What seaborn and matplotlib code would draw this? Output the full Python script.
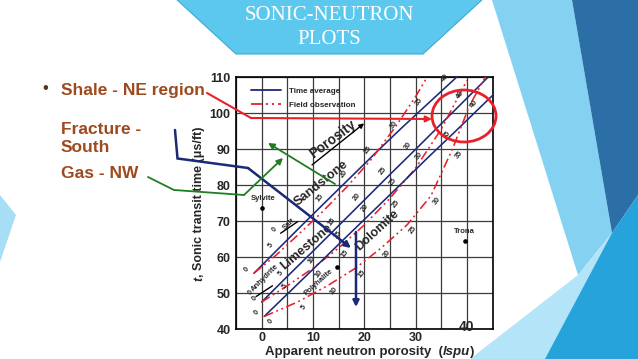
import matplotlib
matplotlib.use("Agg")
import numpy as np
import pandas as pd
import matplotlib.pyplot as plt
import seaborn as sns
from matplotlib.patches import Polygon, Ellipse, FancyArrowPatch
from matplotlib.lines import Line2D

# ---------------- data ----------------
# x = apparent neutron porosity (lspu), y = sonic transit time (us/ft), por = porosity label
ss_ta_por = [0, 5, 10, 15, 20, 25, 30, 35, 40, 45]
ss_ta_x = [-1.5, 3.2, 7.9, 12.6, 17.4, 22.2, 27.1, 32.1, 37.2, 42.3]
ss_ta_y = [55.5, 62.2, 68.9, 75.5, 82.2, 88.9, 95.6, 102.2, 108.9, 115.6]

ss_fo_por = [0, 5, 10, 15, 20, 25, 30, 35, 40]
ss_fo_x = [-1.5, 2.8, 7.2, 11.8, 16.5, 21.3, 26.0, 30.0, 33.5]
ss_fo_y = [55.5, 60.5, 66.3, 72.5, 79.3, 87.0, 96.0, 104.5, 113.0]

ls_ta_por = [0, 5, 10, 15, 20, 25, 30, 35, 40, 45]
ls_ta_x = [0, 5, 10, 15, 20, 25, 30, 35, 40, 45]
ls_ta_y = [47.5, 54.6, 61.6, 68.7, 75.8, 82.9, 89.9, 97.0, 104.1, 111.2]

ls_fo_por = [0, 5, 10, 15, 20, 25, 30, 35, 40]
ls_fo_x = [0, 5, 10, 15, 20, 25, 30, 35, 40]
ls_fo_y = [47.5, 52.0, 56.9, 62.5, 68.9, 76.3, 84.7, 95.5, 109.0]

do_ta_por = [0, 5, 10, 15, 20, 25, 30, 35, 40, 45]
do_ta_x = [0.5, 5.8, 11.1, 16.3, 21.6, 26.9, 32.1, 37.4, 42.7, 48.0]
do_ta_y = [43.5, 50.8, 58.1, 65.3, 72.6, 79.9, 87.2, 94.4, 101.7, 109.0]

do_fo_por = [0, 5, 10, 15, 20, 25, 30, 35, 40, 45]
do_fo_x = [0.5, 7.0, 12.8, 18.4, 23.3, 28.4, 33.0, 37.2, 40.5, 44.0]
do_fo_y = [43.5, 47.5, 52.0, 57.0, 62.5, 69.0, 77.0, 90.0, 102.0, 111.0]

# porosity values that carry a number label on each curve
ss_ta_lab = [0, 5, 15, 20, 25, 30, 35, 40]
ss_fo_lab = []
ls_ta_lab = [0, 5, 15, 20, 25, 30, 40]
ls_fo_lab = [10, 15, 25, 35]
do_ta_lab = [0, 5, 10, 15, 20, 25, 30, 40]
do_fo_lab = [0, 5, 10, 15, 20, 25, 30, 35]

# minerals (x, y)
mineral_names = ["Sylvite", "Polyhalite", "Trona"]
mineral_x = [0.0, 14.7, 39.6]
mineral_y = [73.5, 57.1, 64.4]

x_tick_labels = ["0", "10", "20", "30"]
y_tick_labels = ["40", "50", "60", "70", "80", "90", "100", "110"]

legend_labels = ["Time average", "Field observation"]
slide_title = ["SONIC-NEUTRON", "PLOTS"]
slide_notes = ["Shale - NE region", "Fracture -", "South", "Gas - NW"]

# ---------------- style ----------------
sns.set_style("white")
plt.rcParams["font.family"] = ["Liberation Sans", "DejaVu Sans"]
NAVY = "#1c2878"
RED = "#e8202a"
GREEN = "#1f7d22"
BROWN = "#9e4a1e"
FO_DASH = (0, (6, 2.2, 1.2, 2.2, 1.2, 2.2))

W, H = 638, 359
fig = plt.figure(figsize=(W / 100, H / 100), dpi=100)
fig.patch.set_facecolor("white")


def F(x, y):
    return (x / W, 1 - y / H)


# ---------------- background decorations ----------------
deco = [
    ([(0, 195), (16, 215), (0, 262)], "#a6def5"),
    ([(492, 0), (572, 0), (612, 233), (578, 275)], "#84d1f1"),
    ([(572, 0), (638, 0), (638, 195), (612, 233)], "#2c6ea6"),
    ([(470, 359), (578, 275), (612, 233), (600, 359)], "#b4e4f7"),
    ([(545, 359), (612, 233), (638, 195), (638, 359)], "#27a3db"),
]
for pts, c in deco:
    fig.add_artist(Polygon([F(*p) for p in pts], closed=True, transform=fig.transFigure,
                           fc=c, ec="none", zorder=0.2))

# title banner
fig.add_artist(Polygon([F(175, -2), F(484, -2), F(423, 54), F(236, 54)], closed=True,
                       transform=fig.transFigure, fc="#5cc8ee", ec="#3ea8d6", lw=0.8, zorder=0.3))
fig.text(*F(329, 16), slide_title[0], color="white", family="Liberation Serif", fontsize=15,
         ha="center", va="center", zorder=0.4)
fig.text(*F(329, 40), slide_title[1], color="white", family="Liberation Serif", fontsize=15,
         ha="center", va="center", zorder=0.4)

# ---------------- axes ----------------
ax = fig.add_axes([236 / W, 1 - 329 / H, (492.5 - 236) / W, (329 - 77) / H])
ax.set_zorder(1)
ax.set_facecolor("white")

curves = [
    ("ss_ta", ss_ta_por, ss_ta_x, ss_ta_y, ss_ta_lab, NAVY, "-"),
    ("ss_fo", ss_fo_por, ss_fo_x, ss_fo_y, ss_fo_lab, RED, FO_DASH),
    ("ls_ta", ls_ta_por, ls_ta_x, ls_ta_y, ls_ta_lab, NAVY, "-"),
    ("ls_fo", ls_fo_por, ls_fo_x, ls_fo_y, ls_fo_lab, RED, FO_DASH),
    ("do_ta", do_ta_por, do_ta_x, do_ta_y, do_ta_lab, NAVY, "-"),
    ("do_fo", do_fo_por, do_fo_x, do_fo_y, do_fo_lab, RED, FO_DASH),
]
df = pd.concat([pd.DataFrame({"curve": n, "por": p, "x": x, "y": y})
                for n, p, x, y, _, _, _ in curves], ignore_index=True)

for n, p, x, y, labs, col, ls in curves:
    sub = df[df.curve == n]
    sns.lineplot(data=sub, x="x", y="y", sort=False, estimator=None, color=col,
                 linestyle=ls, linewidth=1.15, ax=ax, legend=False, zorder=3)
    off = (-5, 2.5) if col == NAVY else (4.5, -4)
    for _, r in sub.iterrows():
        if r.por in labs and -5 < r.x < 45 and 40 < r.y < 110:
            ax.annotate(f"{int(r.por)}", (r.x, r.y), xytext=off, textcoords="offset points",
                        fontsize=5.2, fontweight="bold", rotation=52, ha="center", va="center",
                        zorder=4)

ax.set_xlim(-5, 45)
ax.set_ylim(40, 110)
xt = np.arange(-5, 46, 5)
ax.set_xticks(xt)
ax.set_xticklabels(["" if v not in (0, 10, 20, 30) else str(v) for v in xt])
ax.set_yticks(np.arange(40, 111, 10))
ax.set_yticklabels(y_tick_labels)
ax.tick_params(axis="y", length=0, labelsize=9, pad=4)
ax.tick_params(axis="x", length=0, labelsize=9, pad=2)
for lab in ax.get_xticklabels() + ax.get_yticklabels():
    lab.set_fontweight("bold")
ax.grid(True, color="#3c3c3c", lw=0.9)
ax.set_axisbelow(True)
for s in ax.spines.values():
    s.set_color("black")
    s.set_linewidth(1.2)
ax.set_xlabel("")
ax.set_ylabel("")
ax.text(40, 40.6, "40", fontsize=10, fontweight="bold", ha="center", va="center", zorder=5)

# legend
handles = [Line2D([], [], color=NAVY, lw=1.3), Line2D([], [], color=RED, lw=1.3, ls=FO_DASH)]
ax.legend(handles, legend_labels, loc="upper left", bbox_to_anchor=(0.038, 0.98), frameon=False,
          prop={"size": 5.8, "weight": "bold"}, handlelength=3.7, handletextpad=1.0,
          labelspacing=0.75, borderpad=0.2)

# minerals
for name, mx, my in zip(mineral_names, mineral_x, mineral_y):
    ax.plot(mx, my, "o", color="black", ms=2.3, zorder=4)
ax.text(0.3, 76.2, "Sylvite", fontsize=5.5, fontweight="bold", ha="center", va="center")
ax.text(39.6, 67.0, "Trona", fontsize=5.5, fontweight="bold", ha="center", va="center")
ax.text(11.1, 53.0, "Polyhalite", fontsize=5.5, fontweight="bold", ha="center", va="center",
        rotation=42, rotation_mode="anchor")
ax.text(5.3, 69.0, "Salt", fontsize=5.5, fontweight="bold", ha="center", va="center",
        rotation=42, rotation_mode="anchor")
ax.text(2.6, 67.6, "0", fontsize=5, fontweight="bold", ha="center", va="center", rotation=52)
ax.plot([3.7, 7.0], [66.6, 69.8], color="black", lw=1.0, zorder=4)
ax.text(0.6, 54.3, "Anhydrite", fontsize=5.5, fontweight="bold", ha="center", va="center",
        rotation=45, rotation_mode="anchor")
ax.text(-2.2, 50.0, "0", fontsize=5, fontweight="bold", ha="center", va="center", rotation=52)
ax.plot([-1.1, 2.1], [49.0, 52.0], color="black", lw=1.0, zorder=4)

# lithology names
for txt, tx, ty, rot in [("Sandstone", 11.65, 80.6, 38.7), ("Limestone", 8.74, 62.9, 40.6),
                         ("Dolomite", 22.6, 67.5, 42.5), ("Porosity", 13.9, 92.6, 36.6)]:
    ax.text(tx, ty, txt, fontsize=9.2 if txt != "Porosity" else 9.8, fontweight="bold",
            rotation=rot, rotation_mode="anchor", ha="center", va="center", zorder=5)
ax.annotate("", xy=(20.4, 97.6), xytext=(9.4, 85.1),
            arrowprops=dict(arrowstyle="-|>", color="black", lw=1.0, mutation_scale=7), zorder=5)

# ---------------- axis titles made of styled pieces ----------------
fig.canvas.draw()
rend = fig.canvas.get_renderer()


def pieces(parts, cx, cy, rotation=0, size=9):
    ts = [fig.text(0, 0, s, fontsize=size, fontweight="bold", style=st, rotation=rotation,
                   rotation_mode="anchor", ha="left", va="center") for s, st in parts]
    bbs = [t.get_window_extent(rend) for t in ts]
    if rotation == 0:
        pos = cx - sum(b.width for b in bbs) / 2
        for t, b in zip(ts, bbs):
            t.set_position(F(pos, cy))
            pos += b.width
    else:
        pos = cy + sum(b.height for b in bbs) / 2
        for t, b in zip(ts, bbs):
            t.set_position(F(cx, pos))
            pos -= b.height


pieces([("Apparent neutron porosity  (", "normal"), ("lspu", "italic"), (")", "normal")],
       370, 352, size=9.5)
pieces([("t", "italic"), (", Sonic transit time (\u03bcs/ft)", "normal")], 199, 204,
       rotation=90, size=9)

# ---------------- slide notes ----------------
fig.text(*F(45, 89), "\u2022", color="#5a3020", fontsize=12, ha="center", va="center")
fig.text(*F(61, 90), slide_notes[0], color=BROWN, fontsize=12.5, fontweight="bold", va="center")
fig.text(*F(61, 129), slide_notes[1], color=BROWN, fontsize=12.5, fontweight="bold", va="center")
fig.text(*F(61, 147.5), slide_notes[2], color=BROWN, fontsize=12.5, fontweight="bold", va="center")
fig.text(*F(61, 173), slide_notes[3], color=BROWN, fontsize=12.5, fontweight="bold", va="center")


# ---------------- overlay arrows ----------------
def poly_arrow(pts, color, lw, ms=9, head=True):
    fp = [F(*p) for p in pts]
    n = len(fp) - 1 if head else len(fp)
    if n >= 2:
        fig.add_artist(Line2D([p[0] for p in fp[:n]], [p[1] for p in fp[:n]], color=color, lw=lw,
                              transform=fig.transFigure, zorder=6, solid_joinstyle="miter"))
    if head:
        fig.add_artist(FancyArrowPatch(fp[-2], fp[-1], transform=fig.transFigure,
                                       arrowstyle="-|>", mutation_scale=ms, color=color, lw=lw,
                                       shrinkA=0, shrinkB=0, zorder=6))


poly_arrow([(207, 93), (251, 118), (432, 119)], RED, 1.5)
fig.add_artist(Ellipse(F(464, 116), 64 / W, 52 / H, transform=fig.transFigure, fill=False,
                       ec=RED, lw=2.0, zorder=6))
poly_arrow([(175, 130), (177.5, 158.5), (248, 168), (351, 248)], NAVY, 1.8)
poly_arrow([(356, 232), (356, 307)], NAVY, 1.8)
poly_arrow([(148, 177), (174, 190), (244, 195), (283, 158)], GREEN, 1.3)
poly_arrow([(335, 184), (268, 143)], GREEN, 1.3)

fig.savefig("out.png", dpi=100, facecolor="white")
